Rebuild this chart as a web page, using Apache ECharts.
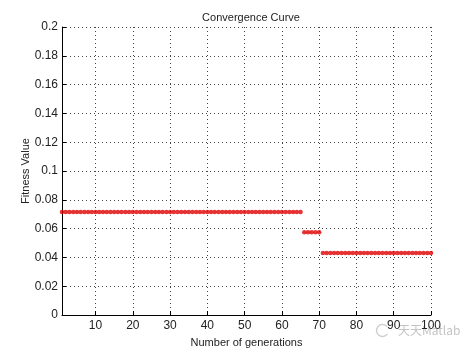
<!DOCTYPE html>
<html>
<head>
<meta charset="utf-8">
<script src="https://cdn.jsdelivr.net/npm/echarts@6/dist/echarts.min.js"></script>
<style>
  html, body { margin: 0; padding: 0; background: #fff; }
  #chart { width: 474px; height: 354px; }
</style>
</head>
<body>
<div id="chart"></div>
<script>
// fitness per generation (three flat stretches)
var generations = [];
for (var g = 1; g <= 100; g++) generations.push(g);
var level1 = 0.0715, level2 = 0.0575, level3 = 0.0430;
var fitness = [
  level1, level1, level1, level1, level1, level1, level1, level1, level1, level1,
  level1, level1, level1, level1, level1, level1, level1, level1, level1, level1,
  level1, level1, level1, level1, level1, level1, level1, level1, level1, level1,
  level1, level1, level1, level1, level1, level1, level1, level1, level1, level1,
  level1, level1, level1, level1, level1, level1, level1, level1, level1, level1,
  level1, level1, level1, level1, level1, level1, level1, level1, level1, level1,
  level1, level1, level1, level1, level1,
  level2, level2, level2, level2, level2,
  level3, level3, level3, level3, level3, level3, level3, level3, level3, level3,
  level3, level3, level3, level3, level3, level3, level3, level3, level3, level3,
  level3, level3, level3, level3, level3, level3, level3, level3, level3, level3
];
var xTicks = [10, 20, 30, 40, 50, 60, 70, 80, 90, 100];

var font = 'Liberation Sans, Arial, sans-serif';
var chart = echarts.init(document.getElementById('chart'));

chart.setOption({
  animation: false,
  title: {
    text: 'Convergence Curve',
    left: 246, top: 7, textAlign: 'center',
    textStyle: { fontFamily: font, fontSize: 11, fontWeight: 'normal', color: '#222' }
  },
  grid: { left: 62, right: 43, top: 27, bottom: 39 },
  xAxis: {
    type: 'value', min: 1, max: 100,
    name: 'Number of generations', nameLocation: 'middle', nameGap: 22,
    nameMoveOverlap: false,
    nameTextStyle: { fontFamily: font, fontSize: 11, color: '#222' },
    axisLine: { onZero: false, lineStyle: { color: '#000', width: 1 } },
    axisTick: { inside: true, length: 4, customValues: xTicks, lineStyle: { color: '#000' } },
    axisLabel: { customValues: xTicks, fontFamily: font, fontSize: 12, color: '#222', margin: 5 },
    splitLine: { show: true, lineStyle: { type: [1, 3], color: '#444', width: 1 } }
  },
  yAxis: {
    type: 'value', min: 0, max: 0.2, interval: 0.02,
    name: 'Fitness Value', nameLocation: 'middle', nameGap: 31,
    nameMoveOverlap: false,
    nameTextStyle: { fontFamily: font, fontSize: 11, color: '#222' },
    axisLine: { show: true, lineStyle: { color: '#000', width: 1 } },
    axisTick: { show: true, inside: true, length: 4, lineStyle: { color: '#000' } },
    axisLabel: { fontFamily: font, fontSize: 12, color: '#222', margin: 4 },
    splitLine: { show: true, lineStyle: { type: [1, 3], color: '#444', width: 1 } }
  },
  graphic: [{
    type: 'arc', left: 374, top: 322, z: -1,
    shape: { cx: 0, cy: 0, r: 6, startAngle: 0.6, endAngle: 5.6 },
    style: { stroke: '#d0d0d0', fill: null, lineWidth: 1.5 }
  }, {
    type: 'text', left: 398, top: 324, z: -1,
    style: { text: '天天Matlab', fontFamily: 'Noto Sans CJK SC', fontSize: 12, fill: '#c4c4c4' }
  }],
  series: [{
    type: 'scatter',
    data: generations.map(function (g, i) { return [g, fitness[i]]; }),
    symbol: 'circle', symbolSize: 4.5,
    itemStyle: { color: '#e00000' },
    silent: true
  }]
});
</script>
</body>
</html>
